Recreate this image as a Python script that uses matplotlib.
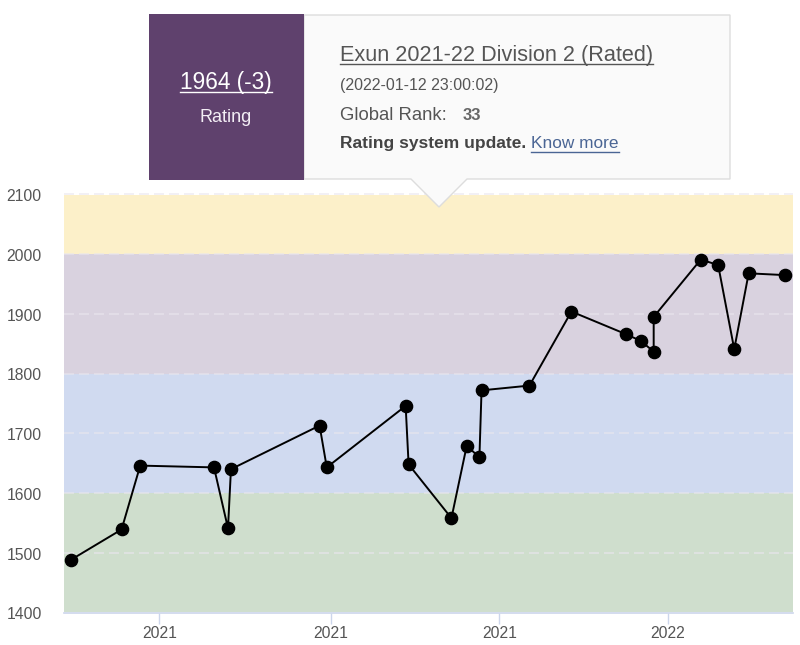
import matplotlib
matplotlib.use("Agg")
import matplotlib.pyplot as plt
from matplotlib.patches import Rectangle, Polygon
from matplotlib.transforms import ScaledTranslation

# x in months since the first tick
months = [-2.09, -0.89, -0.45, 1.29, 1.62, 1.69, 3.78, 3.95, 5.81, 5.88, 6.89, 7.25, 7.55, 7.60,
          8.73, 9.72, 11.01, 11.35, 11.66, 11.66, 12.77, 13.18, 13.56, 13.90, 14.76]
ratings = [1488, 1539, 1646, 1643, 1541, 1640, 1713, 1643, 1746, 1648, 1558, 1679, 1660, 1772,
           1780, 1904, 1866, 1855, 1837, 1895, 1991, 1982, 1841, 1968, 1965]
tick_months = [0, 4.04, 8.02, 12]
tick_labels = ["2021", "2021", "2021", "2022"]
y_ticks = [1400, 1500, 1600, 1700, 1800, 1900, 2000, 2100]
bands = [(1400, 1600, "#cfdecd"), (1600, 1800, "#d0daf0"), (1800, 2000, "#d9d2df"), (2000, 2100, "#fcf0c9")]

W, H = 800, 645
plt.rcParams['font.family'] = ['Liberation Sans', 'DejaVu Sans']
fig = plt.figure(figsize=(W/100, H/100), dpi=100)
L, R, T, B = 64, 793, 194.5, 612.5
ax = fig.add_axes([L/W, 1-B/H, (R-L)/W, (B-T)/H])
ax.set_xlim((L-159.3)/42.4, (R-159.3)/42.4)
ax.set_ylim(1400, 2100)
for lo, hi, c in bands:
    ax.axhspan(lo, hi, color=c, lw=0, zorder=0)
for y in y_ticks[1:]:
    ax.axhline(y, color="#e9e6ee", alpha=0.7, lw=1.2, dashes=(6, 3), zorder=1, clip_on=False)
ax.plot(months, ratings, color="black", lw=1.4, marker="o", ms=8.8, zorder=3, clip_on=False)
for s in ax.spines.values():
    s.set_visible(False)
ax.spines['bottom'].set_visible(True)
ax.spines['bottom'].set_color("#ccd6eb")
ax.spines['bottom'].set_linewidth(1.2)
ax.set_xticks(tick_months, tick_labels)
ax.set_yticks(y_ticks)
ax.tick_params(axis='x', length=8, width=1, color="#ccd6eb", labelsize=11.3, labelcolor="#555555", pad=2)
ax.tick_params(axis='y', length=0, labelsize=11.3, labelcolor="#555555", pad=16)
down = ScaledTranslation(0, -0.8/100, fig.dpi_scale_trans)
for lab in ax.get_yticklabels():
    lab.set_transform(lab.get_transform() + down)

# tooltip overlay in pixel coordinates
ov = fig.add_axes([0, 0, 1, 1], zorder=5)
ov.set_xlim(0, W); ov.set_ylim(H, 0); ov.axis('off'); ov.patch.set_alpha(0)
ov.add_patch(Polygon([(304, 15), (730, 15), (730, 179), (467, 179), (439, 207), (411, 179), (304, 179)],
                     closed=True, fc="#fafafa", ec="#dddddd", lw=1))
ov.add_patch(Rectangle((149, 14), 155, 166, fc="#5f416d", ec="none"))
def txt(x, y, s, size, color, weight='normal', ha='left', ul=None):
    t = ov.text(x, y, s, fontsize=size, color=color, fontweight=weight, ha=ha, va='center')
    if ul:
        fig.canvas.draw()
        bb = t.get_window_extent()
        ov.plot([bb.x0, bb.x1], [ul, ul], color=color, lw=1)
    return t
txt(226, 82.5, "1964 (-3)", 16.3, "white", ha='center', ul=91.5)
txt(226, 117.5, "Rating", 13, "#f3eef5", ha='center')
txt(340, 55.5, "Exun 2021-22 Division 2 (Rated)", 15.6, "#555555", ul=64)
txt(340, 85.5, "(2022-01-12 23:00:02)", 11.5, "#555555")
txt(340, 115, "Global Rank:", 13.3, "#555555")
txt(463, 115, "33", 12, "#666666", weight='bold')
txt(340, 143.5, "Rating system update.", 12.5, "#444444", weight='bold')
txt(531, 143.5, "Know more", 12.4, "#4a6594", ul=151.5)
fig.savefig("out.png", dpi=100)
